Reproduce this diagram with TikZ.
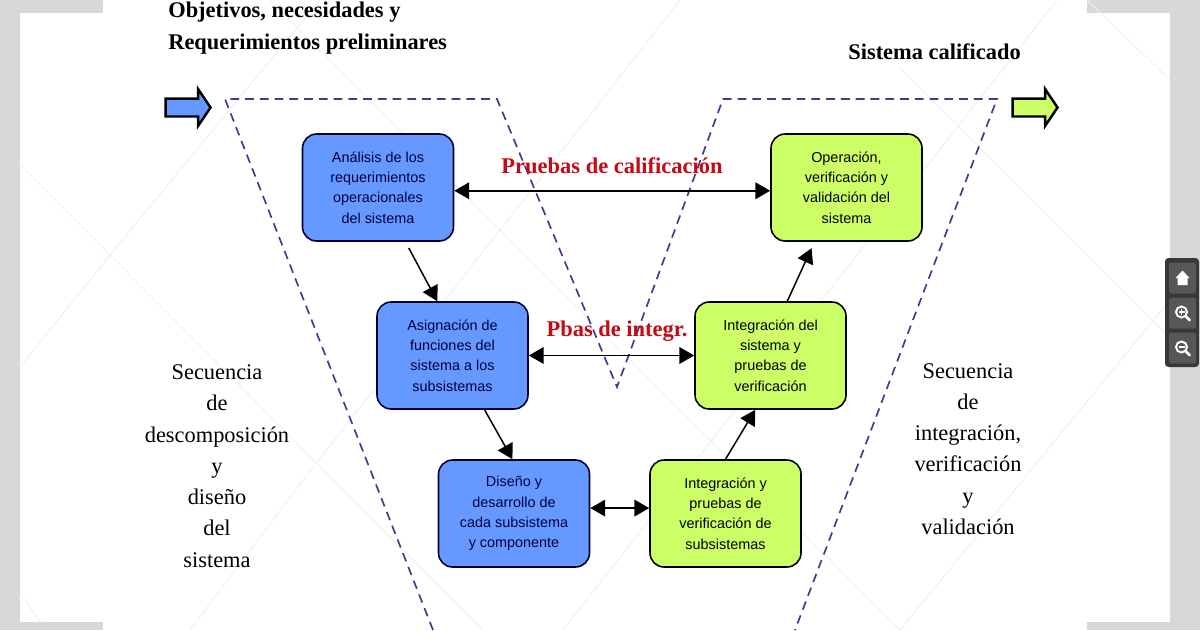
\documentclass[tikz,border=0pt]{standalone}
\usepackage{fontspec}
\setmainfont{Liberation Serif}
\setsansfont{Liberation Sans}
\usetikzlibrary{arrows.meta,calc,shapes.arrows}
\definecolor{blockblue}{HTML}{6699FF}
\definecolor{blockgreen}{HTML}{CCFF66}
\definecolor{framegray}{HTML}{D9D7DA}
\definecolor{dashblue}{HTML}{3D3D90}
\definecolor{labelred}{HTML}{C40A14}
\tikzset{
    procbox/.style={draw,line width=.9pt,rounded corners=8pt,minimum width=3.02cm,minimum height=2.14cm,inner sep=0pt,align=center,font=\sffamily\fontsize{8.2}{11.6}\selectfont},
    bluebox/.style={procbox,fill=blockblue,draw=black!80!blue,text=black!75!blue},
    greenbox/.style={procbox,fill=blockgreen,text=black},
    flowarrow/.style={single arrow,draw=black,line width=1.4pt,inner xsep=0pt,inner ysep=.155cm,minimum height=.9cm,single arrow head extend=.19cm,single arrow tip angle=112},
    sidetext/.style={align=center,font=\fontsize{12.75}{17.8}\selectfont},
    titletext/.style={align=left,anchor=west,inner sep=0pt,font=\bfseries\fontsize{12.75}{14}\selectfont},
    redtext/.style={text=labelred,font=\bfseries\fontsize{12.8}{14}\selectfont},
    toolbtn/.style={fill=black!66,rounded corners=1pt,minimum width=.54cm,minimum height=.62cm,inner sep=0pt},
    latticeline/.style={black!6,line width=.5pt}
}
\begin{document}
\begin{tikzpicture}[x=.02cm,y=-.02cm]
    \useasboundingbox (0,0) rectangle (1200,630);
    \fill[framegray] (0,0) rectangle (1200,630);
    \fill[white] (20,13) rectangle (1170,622);
    \fill[white] (103,0) rectangle (1087,630);
    \begin{scope}[latticeline]
        \draw (20,165) -- (110,255) -- (433,580) -- (483,630);
        \draw (20,367) -- (110,255) -- (320,0);
        \draw (190,630) -- (313,467) -- (453,290) -- (680,0);
        \draw (270,0) -- (900,630);
        \draw (563,630) -- (1057,0);
        \draw (1087,0) -- (1170,80);
        \draw (900,68) -- (1170,338);
        \draw (900,630) -- (1170,300);
        \draw (20,593) -- (40,622);
    \end{scope}
    \coordinate (VL) at (433,630);
    \coordinate (TL) at (225,99);
    \coordinate (TM) at (497,99);
    \coordinate (VM) at (617,387);
    \coordinate (TN) at (723,99);
    \coordinate (TR) at (997,99);
    \coordinate (VR) at (795,630);
    \draw[dashblue,line width=.95pt,dash pattern=on 5pt off 3.4pt] (VL) -- (TL) -- (TM) -- (VM) -- (TN) -- (TR) -- (VR);
    \node[flowarrow,fill=blockblue] (inarrow) at (185,107.5) {};
    \node[flowarrow,fill=blockgreen] (outarrow) at (1032,107.5) {};
    \node[titletext] (objetivos) at (168,12) {Objetivos, necesidades y};
    \node[titletext] (requisitos) at (168,44) {Requerimientos preliminares};
    \node[titletext] (calificado) at (848,52) {Sistema calificado};
    \node[bluebox] (analisis) at (378,187.5) {Análisis de los\\requerimientos\\operacionales\\del sistema};
    \node[bluebox] (asignacion) at (452.5,355.5) {Asignación de\\funciones del\\sistema a los\\subsistemas};
    \node[bluebox] (diseno) at (514,513.5) {Diseño y\\desarrollo de\\cada subsistema\\y componente};
    \node[greenbox] (intsub) at (725.5,513.5) {Integración y\\pruebas de\\verificación de\\subsistemas};
    \node[greenbox] (intsis) at (770.5,355.5) {Integración del\\sistema y\\pruebas de\\verificación};
    \node[greenbox] (operacion) at (846.5,187.5) {Operación,\\verificación y\\validación del\\sistema};
    \begin{scope}[>={Stealth[length=8.5pt,width=9.5pt,inset=0pt]},line width=.85pt]
        \draw[<->] ($(analisis.north east)!.53!(analisis.south east)$) -- ($(operacion.north west)!.53!(operacion.south west)$);
        \draw[<->] (asignacion.east) -- (intsis.west);
        \draw[<->] ($(diseno.north east)!.45!(diseno.south east)$) -- ($(intsub.north west)!.45!(intsub.south west)$);
        \draw[->,shorten <=4pt] ($(analisis.south west)!.68!(analisis.south east)$) -- ($(asignacion.north west)!.4!(asignacion.north east)$);
        \draw[->] ($(asignacion.south west)!.71!(asignacion.south east)$) -- ($(diseno.north west)!.49!(diseno.north east)$);
        \draw[->] ($(intsub.north west)!.5!(intsub.north east)$) -- ($(intsis.south west)!.4!(intsis.south east)$);
        \draw[->,shorten >=4pt] ($(intsis.north west)!.61!(intsis.north east)$) -- ($(operacion.south west)!.29!(operacion.south east)$);
    \end{scope}
    \node[redtext] (calif) at (612,166) {Pruebas de calificación};
    \node[redtext] (integr) at (617,331) {Pbas de integr.};
    \node[sidetext] (ladoizq) at (217,466) {Secuencia\\de\\descomposición\\y\\diseño\\del\\sistema};
    \node[sidetext] (ladoder) at (968,449) {Secuencia\\de\\integración,\\verificación\\y\\validación};
    \fill[black!78,rounded corners=2pt] (1165,258) rectangle (1199,367);
    \node[toolbtn] (btnhome) at (1182.5,278) {};
    \node[toolbtn] (btnmas) at (1182.5,313) {};
    \node[toolbtn] (btnmenos) at (1182.5,348) {};
    \fill[white] (btnhome) ++(-7,0) -- ++(7,-7.5) -- ++(7,7.5) -- ++(-2,0) -- ++(0,7) -- ++(-10,0) -- ++(0,-7) -- cycle;
    \draw[white,line width=1.1pt] ($(btnmas)+(-1,-1)$) circle (5.5);
    \draw[white,line width=1.6pt,line cap=round] ($(btnmas)+(3,3)$) -- ($(btnmas)+(7,7)$);
    \draw[white,line width=.7pt] ($(btnmas)+(-4,-1)$) -- ($(btnmas)+(2,-1)$);
    \draw[white,line width=.7pt] ($(btnmas)+(-1,-4)$) -- ($(btnmas)+(-1,2)$);
    \draw[white,line width=1.1pt] ($(btnmenos)+(-1,-1)$) circle (5.5);
    \draw[white,line width=1.6pt,line cap=round] ($(btnmenos)+(3,3)$) -- ($(btnmenos)+(7,7)$);
    \draw[white,line width=.7pt] ($(btnmenos)+(-4,-1)$) -- ($(btnmenos)+(2,-1)$);
\end{tikzpicture}
\end{document}
